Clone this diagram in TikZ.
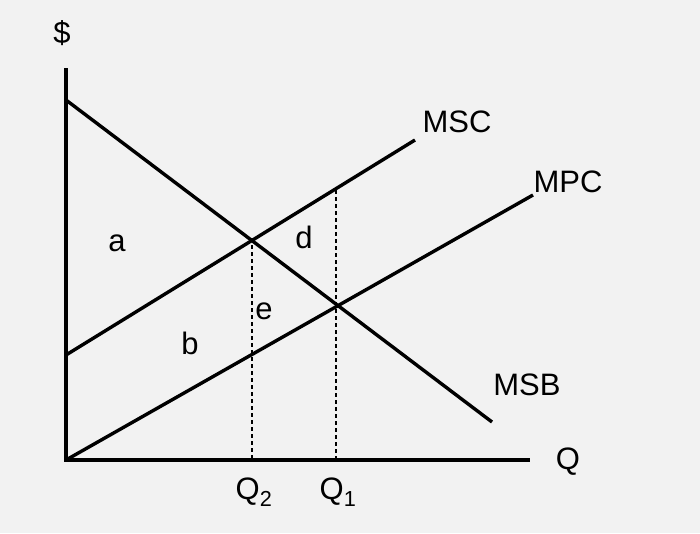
\documentclass[tikz,border=0pt]{standalone}
\usepackage{fontspec}
\setmainfont{Liberation Sans}
\begin{document}
\begin{tikzpicture}[x=1pt,y=-1pt,
  curve/.style={line width=3.4pt},
  guide/.style={line width=2pt,dash pattern=on 4pt off 3pt},
  lbl/.style={font=\fontsize{31}{31}\selectfont,inner sep=0pt}]
\fill[gray!10] (0,0) rectangle (700,533);
\useasboundingbox (0,0) rectangle (700,533);
\coordinate (O) at (66,460);
\coordinate (Ytop) at (66,68);
\coordinate (Xend) at (530,460);
\coordinate (B1) at (66,100); \coordinate (B2) at (492,422);
\coordinate (C1) at (66,355); \coordinate (C2) at (415,140);
\coordinate (P2) at (533,195);
\coordinate (Q2top) at (252,238); \coordinate (Q2bot) at (252,460);
\coordinate (Q1top) at (336,190); \coordinate (Q1bot) at (336,460);
\draw[curve] (Ytop) -- (O) -- (Xend);
\draw[curve] (B1) -- (B2);
\draw[curve] (C1) -- (C2);
\draw[curve] (O) -- (P2);
\draw[guide] (Q2top) -- (Q2bot);
\draw[guide] (Q1top) -- (Q1bot);
\node[lbl] (dl) at (62,33) {\$};
\node[lbl] (msc) at (457,122) {MSC};
\node[lbl] (mpc) at (568,182) {MPC};
\node[lbl] (msb) at (527,385) {MSB};
\node[lbl] (q) at (568,462) {Q};
\node[lbl] (q2) at (254,492) {Q\textsubscript{2}};
\node[lbl] (q1) at (338,492) {Q\textsubscript{1}};
\node[lbl] (a) at (117,243) {a};
\node[lbl] (b) at (190,343) {b};
\node[lbl] (d) at (304,237) {d};
\node[lbl] (e) at (264,311) {e};
\end{tikzpicture}
\end{document}
